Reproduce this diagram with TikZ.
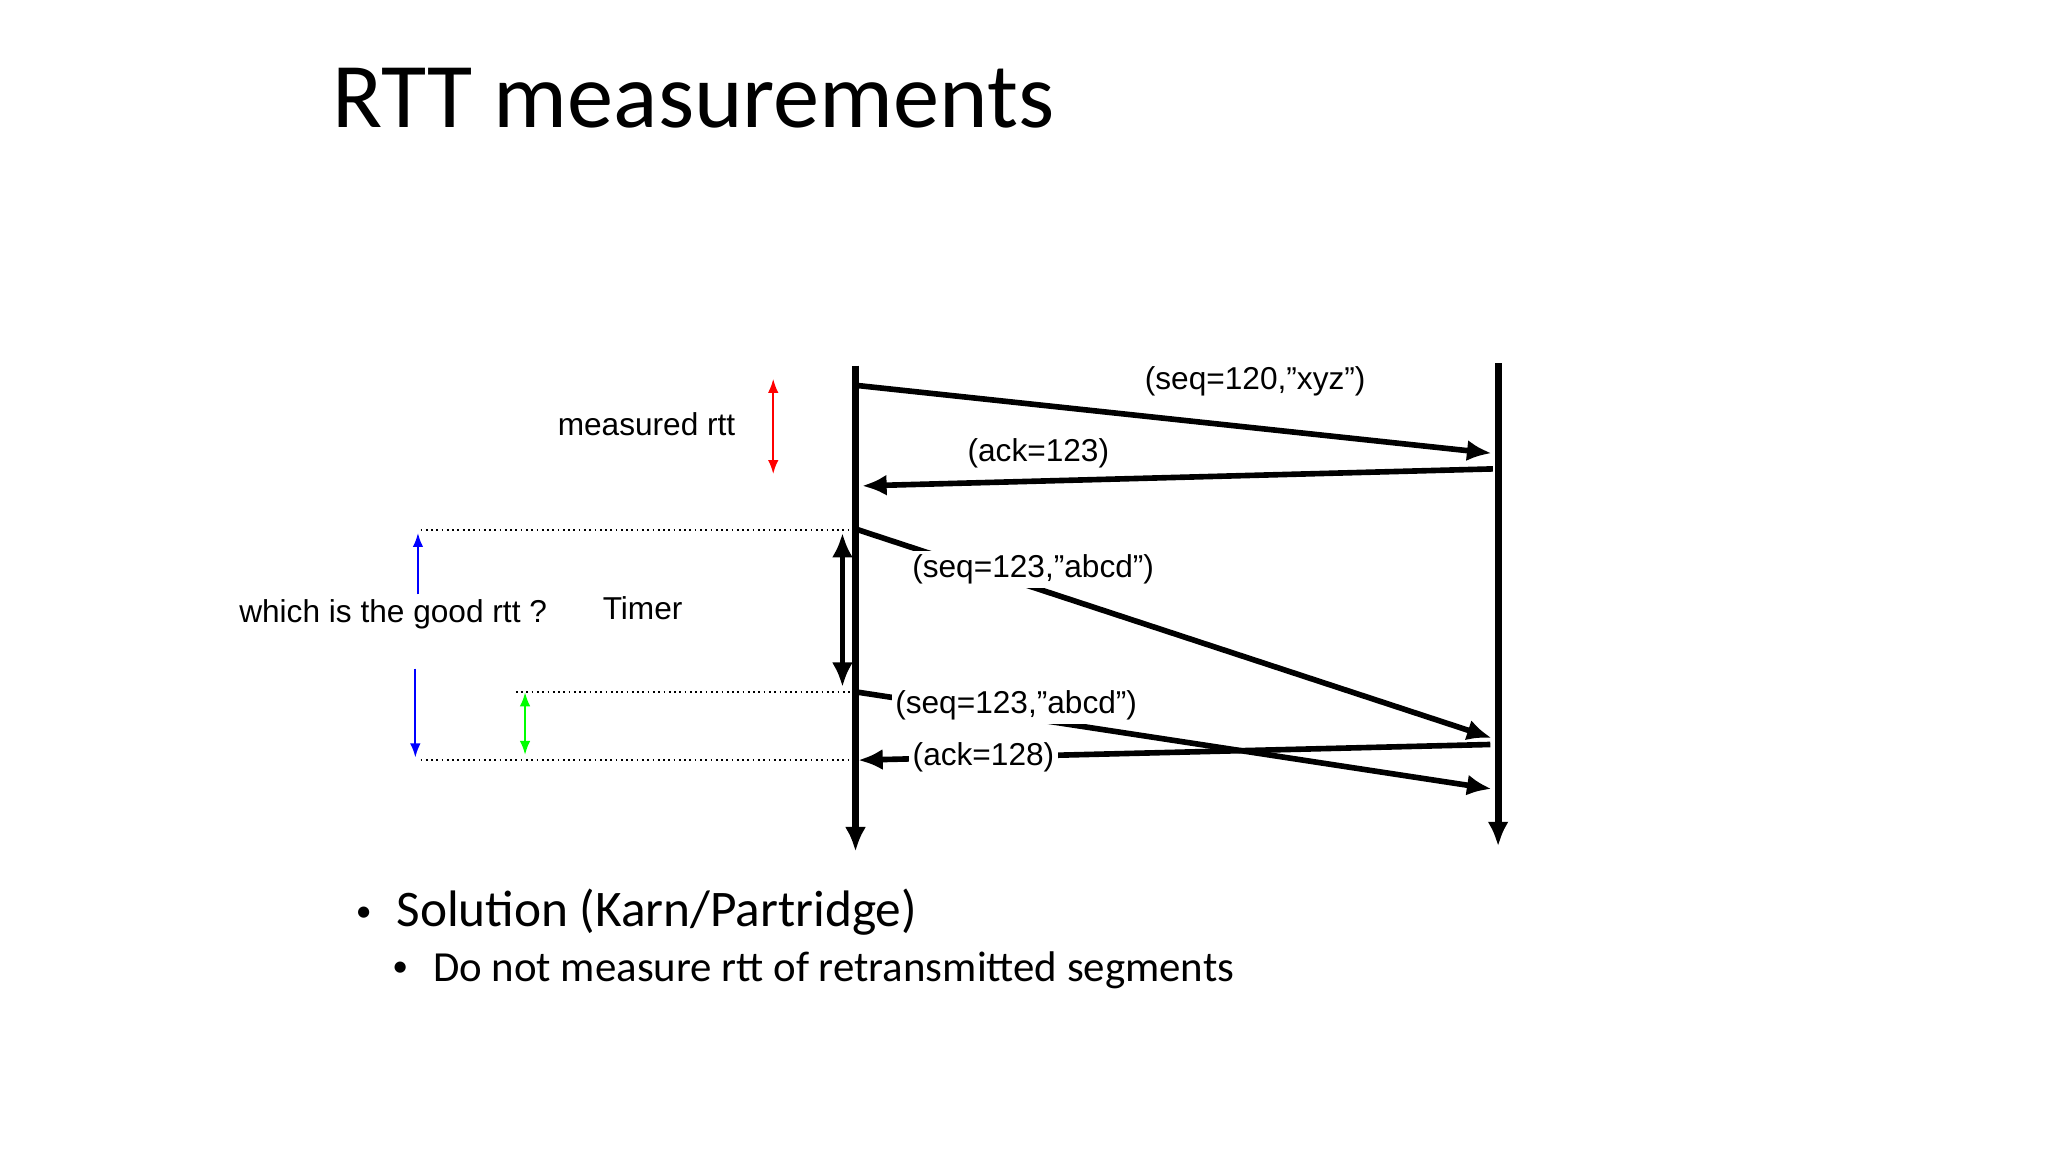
\documentclass[tikz,border=0pt]{standalone}
\usepackage{fontspec}
\setmainfont{Liberation Sans}
\newfontfamily\carlitofont{Carlito}
\usetikzlibrary{arrows.meta}
\newcommand{\qq}{\symbol{34}}
\begin{document}
\begin{tikzpicture}[x=0.013061cm,y=-0.013061cm,
  lbl/.style={font=\fontsize{9}{11}\selectfont,inner sep=1pt},
  msg/.style={line width=1.6pt,-{Latex[length=7pt,width=6pt]}},
  tl/.style={line width=2pt,-{Latex[length=7pt,width=6pt]}},
  dot/.style={densely dotted,line width=0.5pt},
  small/.style={line width=0.6pt,-{Latex[length=4pt,width=3pt]}}]
\useasboundingbox (0,0) rectangle (1568,882);
% time lines
\coordinate (L0) at (655,280); \coordinate (L1) at (655,652);
\coordinate (R0) at (1147,278); \coordinate (R1) at (1147,648);
\draw[tl] (L0) -- (L1);
\draw[tl] (R0) -- (R1);
% messages
\coordinate (a1) at (655,295); \coordinate (b1) at (1142,347);
\draw[msg] (a1) -- (b1);
\node[lbl] (t1) at (961,292) {(seq=120,\qq xyz\qq)};
\coordinate (a2) at (1143,359); \coordinate (b2) at (660,372);
\draw[msg] (a2) -- (b2);
\node[lbl] (t2) at (795,347) {(ack=123)};
\coordinate (a3) at (655,405); \coordinate (b3) at (1142,565);
\draw[msg] (a3) -- (b3);
\node[lbl,fill=white] (t3) at (791,436) {(seq=123,\qq abcd\qq)};
\coordinate (a4) at (657,530); \coordinate (b4) at (1142,604);
\draw[msg] (a4) -- (b4);
\coordinate (a5) at (1141,570); \coordinate (b5) at (657,582);
\draw[msg] (a5) -- (b5);
\node[lbl,fill=white] (t4) at (778,540) {(seq=123,\qq abcd\qq)};
\node[lbl,fill=white] (t5) at (753,580) {(ack=128)};
% timer
\coordinate (tm0) at (645,408); \coordinate (tm1) at (645,526);
\draw[line width=1.6pt,{Latex[length=7pt,width=6pt]}-{Latex[length=7pt,width=6pt]}] (tm0) -- (tm1);
\node[lbl] (timer) at (492,466) {Timer};
% dotted
\coordinate (d1a) at (322,406); \coordinate (d1b) at (652,406);
\coordinate (d2a) at (395,530); \coordinate (d2b) at (652,530);
\coordinate (d3a) at (322,582); \coordinate (d3b) at (652,582);
\draw[dot] (d1a) -- (d1b); \draw[dot] (d2a) -- (d2b); \draw[dot] (d3a) -- (d3b);
% blue
\coordinate (u0) at (320,455); \coordinate (u1) at (320,408);
\coordinate (w0) at (318,512); \coordinate (w1) at (318,580);
\draw[small,blue] (u0) -- (u1);
\draw[small,blue] (w0) -- (w1);
\node[lbl] (good) at (301,470) {which is the good rtt ?};
% green
\coordinate (g0) at (402,530); \coordinate (g1) at (402,578);
\draw[small,green,{Latex[length=4pt,width=3pt]}-{Latex[length=4pt,width=3pt]}] (g0) -- (g1);
% red
\coordinate (r0) at (592,290); \coordinate (r1) at (592,363);
\draw[small,red,{Latex[length=4pt,width=3pt]}-{Latex[length=4pt,width=3pt]}] (r0) -- (r1);
\node[lbl] (mrtt) at (495,325) {measured rtt};
% texts
\node[anchor=west,inner sep=0,font=\carlitofont\fontsize{26.3}{31}\selectfont] (title) at (254,75) {RTT measurements};
\node[anchor=west,inner sep=0,font=\carlitofont\fontsize{14.6}{18}\selectfont] (s1) at (303,698) {Solution (Karn/Partridge)};
\node[anchor=east,inner sep=0,font=\carlitofont\fontsize{9}{11}\selectfont] (bu1) at (285,700) {•};
\node[anchor=west,inner sep=0,font=\carlitofont\fontsize{12.2}{15}\selectfont] (s2) at (331,743) {Do not measure rtt of retransmitted segments};
\node[anchor=east,inner sep=0,font=\carlitofont\fontsize{9}{11}\selectfont] (bu2) at (313,742) {•};
\end{tikzpicture}
\end{document}
